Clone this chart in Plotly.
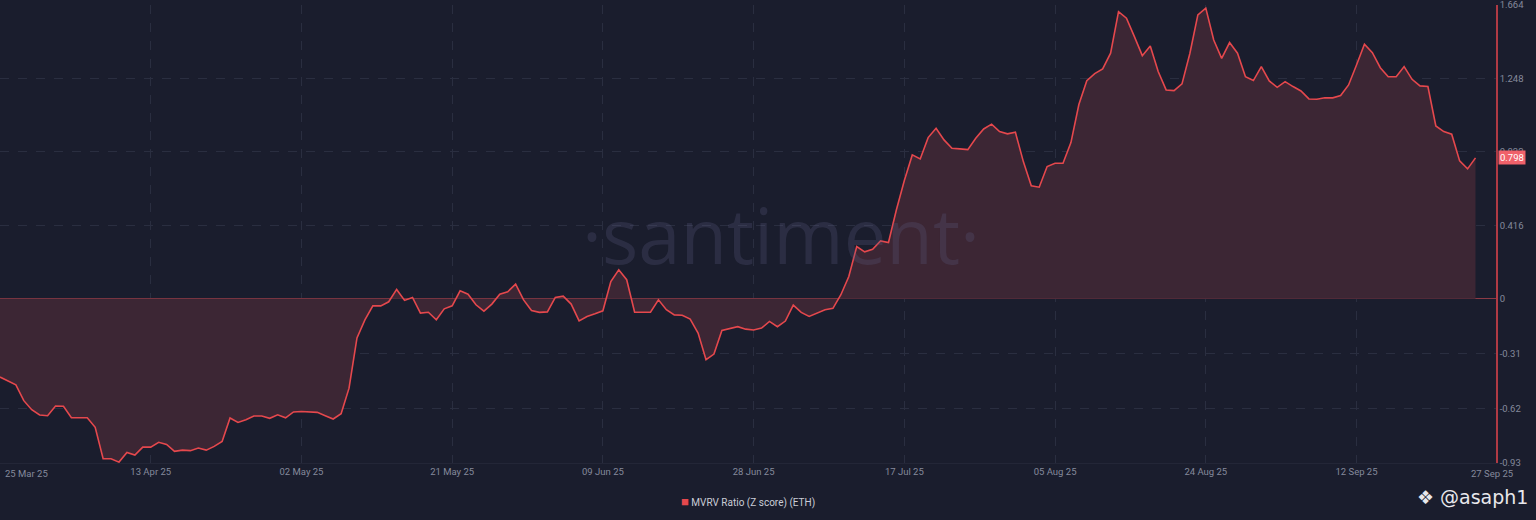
import datetime as dt
import plotly.graph_objects as go

# ---------------- data ----------------
start_date = "2025-03-25"
mvrv_z = [
    -0.443, -0.465, -0.487, -0.577, -0.628, -0.658, -0.662, -0.607, -0.609, -0.674,
    -0.674, -0.674, -0.728, -0.906, -0.906, -0.925, -0.870, -0.885, -0.840, -0.840,
    -0.813, -0.825, -0.864, -0.857, -0.860, -0.845, -0.857, -0.836, -0.808, -0.675,
    -0.700, -0.685, -0.664, -0.664, -0.677, -0.657, -0.674, -0.641, -0.638, -0.641,
    -0.643, -0.662, -0.681, -0.651, -0.506, -0.222, -0.119, -0.040, -0.040, -0.017,
    0.053, -0.009, 0.008, -0.081, -0.076, -0.119, -0.057, -0.040, 0.045, 0.026,
    -0.034, -0.070, -0.030, 0.026, 0.040, 0.083, -0.006, -0.066, -0.077, -0.074,
    0.008, 0.015, -0.030, -0.125, -0.100, -0.085, -0.068, 0.098, 0.164, 0.108,
    -0.076, -0.076, -0.076, -0.006, -0.062, -0.091, -0.093, -0.115, -0.194, -0.345,
    -0.313, -0.179, -0.170, -0.158, -0.172, -0.177, -0.166, -0.128, -0.158, -0.126,
    -0.036, -0.077, -0.100, -0.081, -0.062, -0.054, 0.023, 0.126, 0.296, 0.266,
    0.281, 0.328, 0.319, 0.504, 0.670, 0.815, 0.792, 0.913, 0.966, 0.900,
    0.853, 0.849, 0.845, 0.909, 0.962, 0.989, 0.947, 0.934, 0.943, 0.777,
    0.640, 0.632, 0.749, 0.768, 0.768, 0.885, 1.100, 1.235, 1.275, 1.302,
    1.391, 1.626, 1.589, 1.485, 1.377, 1.432, 1.287, 1.183, 1.179, 1.217,
    1.391, 1.608, 1.646, 1.466, 1.362, 1.451, 1.391, 1.258, 1.236, 1.315,
    1.234, 1.198, 1.230, 1.202, 1.177, 1.132, 1.130, 1.139, 1.138, 1.151,
    1.211, 1.324, 1.442, 1.394, 1.309, 1.258, 1.258, 1.315, 1.243, 1.206,
    1.202, 0.979, 0.947, 0.932, 0.781, 0.736, 0.798,
]
x_tick_dates = ["2025-04-13", "2025-05-02", "2025-05-21", "2025-06-09",
                "2025-06-28", "2025-07-17", "2025-08-05", "2025-08-24", "2025-09-12"]
x_tick_labels = ["13 Apr 25", "02 May 25", "21 May 25", "09 Jun 25",
                 "28 Jun 25", "17 Jul 25", "05 Aug 25", "24 Aug 25", "12 Sep 25"]
x_edge_labels = ["25 Mar 25", "27 Sep 25"]
y_tick_vals = [1.664, 1.248, 0.832, 0.416, 0, -0.31, -0.62, -0.93]
y_tick_labels = ["1.664", "1.248", "0.832", "0.416", "0", "-0.31", "-0.62", "-0.93"]
series_name = "MVRV Ratio (Z score) (ETH)"
last_label = "0.798"

# ---------------- build ----------------
d0 = dt.date.fromisoformat(start_date)
dates = [d0 + dt.timedelta(days=i) for i in range(len(mvrv_z))]

BG = "#1a1d2d"
LINE = "#e5484d"
FILL = "#3c2634"
GRID = "#2a2e40"
TICK = "#858a9c"

fig = go.Figure()
fig.add_trace(go.Scatter(
    x=dates, y=mvrv_z, mode="lines", fill="tozeroy",
    line=dict(color=LINE, width=1.6), fillcolor=FILL,
    name=series_name, showlegend=False, hoverinfo="skip",
))

x_end = dt.datetime.combine(dates[-1], dt.time()) + dt.timedelta(hours=62)
fig.update_layout(
    width=1536, height=520,
    margin=dict(l=0, r=40, t=5, b=57),
    paper_bgcolor=BG, plot_bgcolor=BG,
    font=dict(family="Roboto, Open Sans, sans-serif", color=TICK, size=10),
    xaxis=dict(
        range=[dates[0], x_end], type="date",
        tickvals=x_tick_dates, ticktext=x_tick_labels,
        showgrid=True, gridcolor=GRID, griddash="dash", gridwidth=1,
        showline=True, linecolor="#232637", linewidth=1,
        zeroline=False, ticks="", tickfont=dict(size=9.5, color=TICK),
        fixedrange=True,
    ),
    yaxis=dict(
        range=[-0.93, 1.664], side="right",
        tickvals=y_tick_vals, ticktext=y_tick_labels,
        showgrid=True, gridcolor=GRID, griddash="dash", gridwidth=1,
        showline=True, linecolor="#b03a44", linewidth=1.5,
        zeroline=True, zerolinecolor="#8c3a45", zerolinewidth=1,
        ticks="", tickfont=dict(size=9.5, color=TICK),
        ticklabeloverflow="allow",
        fixedrange=True,
    ),
)

# edge date labels
fig.add_annotation(x=0.0, y=0, xref="paper", yref="paper", xanchor="left", yanchor="top",
                   yshift=-3, xshift=3, text=x_edge_labels[0], showarrow=False,
                   font=dict(size=9.5, color=TICK))
fig.add_annotation(x=dates[-1], y=0, xref="x", yref="paper", xanchor="center", yanchor="top",
                   yshift=-3, xshift=16, text=x_edge_labels[1], showarrow=False,
                   font=dict(size=9.5, color=TICK))

# last value badge
fig.add_annotation(x=1, y=mvrv_z[-1], xref="paper", yref="y", xanchor="left", yanchor="middle",
                   xshift=2, text=last_label, showarrow=False, bgcolor="#f0616a",
                   borderpad=1, font=dict(size=9.5, color="#ffffff"))

# watermark
fig.add_annotation(x=0.522, y=0.5, xref="paper", yref="paper", text="·santiment·",
                   showarrow=False, font=dict(family="Open Sans, Lato, sans-serif", size=76,
                                              color="rgba(90,90,125,0.28)", weight=400))

# legend
fig.add_annotation(x=0.5, y=-0.085, xref="paper", yref="paper", yanchor="middle",
                   text=f'<span style="color:{LINE};font-size:13px">■</span> {series_name}',
                   showarrow=False, font=dict(size=10, color="#c9ccd6"))

# author credit
fig.add_annotation(x=1, y=-0.075, xref="paper", yref="paper", xanchor="right", yanchor="middle",
                   xshift=34, text="❖ @asaph1", showarrow=False,
                   font=dict(family="DejaVu Sans, Roboto, sans-serif", size=19, color="#e8e8ec"))

fig.write_html("out.html", config={"displayModeBar": False},
               post_script="document.body.style.margin='0';")
